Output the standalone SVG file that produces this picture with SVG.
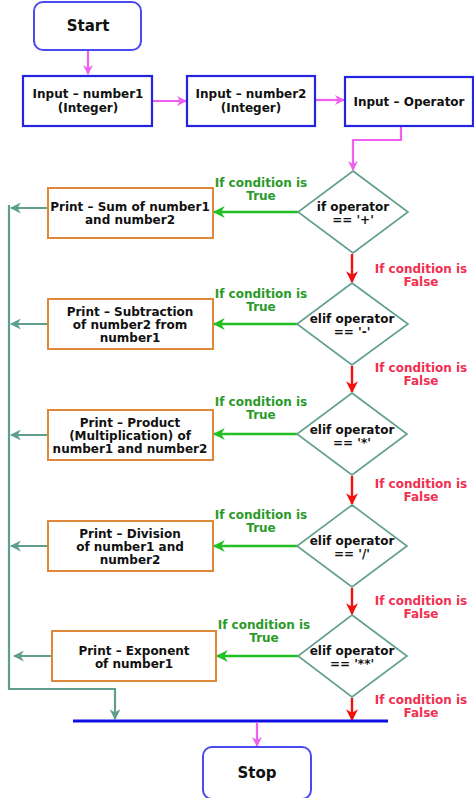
<svg xmlns="http://www.w3.org/2000/svg" width="474" height="798" viewBox="0 0 474 798">
<style>
text{font-family:"DejaVu Sans",Verdana,sans-serif;font-weight:bold;font-size:12px;text-anchor:middle;fill:#111}
.term{fill:#fff;stroke:#4a4af0;stroke-width:2}
.inp{fill:#fff;stroke:#2323e0;stroke-width:2.2}
.prt{fill:#fff;stroke:#e0883a;stroke-width:2}
.dec{fill:#fff;stroke:#5f9e8f;stroke-width:1.6}
.pink{stroke:#f060f0;stroke-width:2.2;fill:none}
.green{stroke:#22c022;stroke-width:2.6;fill:none}
.red{stroke:#ee1111;stroke-width:2.4;fill:none}
.teal{stroke:#5f9e8f;stroke-width:2.2;fill:none}
.gl{fill:#2a9a2a}
.rl{fill:#f03050}
</style>
<defs>
<marker id="mp" viewBox="0 0 10 10" refX="9" refY="5" markerWidth="10" markerHeight="10" orient="auto" markerUnits="userSpaceOnUse"><path d="M0,0 L10,5 L0,10 L3,5 Z" fill="#f060f0"/></marker>
<marker id="mg" viewBox="0 0 10 10" refX="9" refY="5" markerWidth="12" markerHeight="12" orient="auto" markerUnits="userSpaceOnUse"><path d="M0,0 L10,5 L0,10 L3,5 Z" fill="#22c022"/></marker>
<marker id="mr" viewBox="0 0 10 10" refX="9" refY="5" markerWidth="12" markerHeight="12" orient="auto" markerUnits="userSpaceOnUse"><path d="M0,0 L10,5 L0,10 L3,5 Z" fill="#ee1111"/></marker>
<marker id="mt" viewBox="0 0 10 10" refX="9" refY="5" markerWidth="11" markerHeight="11" orient="auto" markerUnits="userSpaceOnUse"><path d="M0,0 L10,5 L0,10 L3,5 Z" fill="#5f9e8f"/></marker>
</defs>
<g id="connectors">
<path class="pink" d="M88,51 V74" marker-end="url(#mp)"/>
<path class="pink" d="M152,101 H186" marker-end="url(#mp)"/>
<path class="pink" d="M315,100 H344" marker-end="url(#mp)"/>
<path class="pink" d="M401,126 V140 H353 V170" marker-end="url(#mp)"/>
<path class="green" d="M298,212 H214" marker-end="url(#mg)"/>
<path class="green" d="M297,324 H214" marker-end="url(#mg)"/>
<path class="green" d="M297,434 H214" marker-end="url(#mg)"/>
<path class="green" d="M297,546 H214" marker-end="url(#mg)"/>
<path class="green" d="M298,656 H217" marker-end="url(#mg)"/>
<path class="red" d="M352,254 V282" marker-end="url(#mr)"/>
<path class="red" d="M352,366 V392" marker-end="url(#mr)"/>
<path class="red" d="M352,476 V504" marker-end="url(#mr)"/>
<path class="red" d="M352,588 V614" marker-end="url(#mr)"/>
<path class="red" d="M352,698 V720" marker-end="url(#mr)"/>
<path class="teal" d="M48,208 H11" marker-end="url(#mt)"/>
<path class="teal" d="M48,324 H11" marker-end="url(#mt)"/>
<path class="teal" d="M48,435 H11" marker-end="url(#mt)"/>
<path class="teal" d="M48,546 H11" marker-end="url(#mt)"/>
<path class="teal" d="M52,656 H14" marker-end="url(#mt)"/>
<path class="teal" d="M9,205 V689 H115 V719" marker-end="url(#mt)"/>
<line x1="73" y1="721" x2="388" y2="721" stroke="#1010e0" stroke-width="3"/>
<path class="pink" d="M257,722 V746" marker-end="url(#mp)"/>
</g>
<g id="start"><rect class="term" x="34" y="2" width="107" height="48" rx="9"/><text x="88" y="31" style="font-size:15px">Start</text></g>
<g id="input1"><rect class="inp" x="23" y="76" width="129" height="50"/><text x="88" y="98">Input – number1</text><text x="88" y="112">(Integer)</text></g>
<g id="input2"><rect class="inp" x="187" y="76" width="128" height="50"/><text x="251" y="98">Input – number2</text><text x="251" y="112">(Integer)</text></g>
<g id="input3"><rect class="inp" x="345" y="77" width="128" height="49"/><text x="409" y="106">Input – Operator</text></g>
<g id="dec1"><polygon class="dec" points="353,171 408,212 353,253 298,212"/><text x="353" y="211">if operator</text><text x="353" y="224">== '+'</text></g>
<g id="dec2"><polygon class="dec" points="352,283 408,324 352,365 297,324"/><text x="352" y="323">elif operator</text><text x="352" y="336">== '-'</text></g>
<g id="dec3"><polygon class="dec" points="352,393 407,434 352,475 297,434"/><text x="352" y="434">elif operator</text><text x="352" y="447">== '*'</text></g>
<g id="dec4"><polygon class="dec" points="352,505 407,546 352,587 297,546"/><text x="352" y="545">elif operator</text><text x="352" y="558">== '/'</text></g>
<g id="dec5"><polygon class="dec" points="352,615 407,656 352,697 298,656"/><text x="352" y="655">elif operator</text><text x="352" y="668">== '**'</text></g>
<g id="print1"><rect class="prt" x="48" y="188" width="165" height="50"/><text x="130" y="211">Print – Sum of number1</text><text x="130" y="224">and number2</text></g>
<g id="print2"><rect class="prt" x="48" y="299" width="165" height="50"/><text x="130" y="316">Print – Subtraction</text><text x="130" y="329">of number2 from</text><text x="130" y="342">number1</text></g>
<g id="print3"><rect class="prt" x="48" y="410" width="165" height="50"/><text x="130" y="427">Print – Product</text><text x="130" y="440">(Multiplication) of</text><text x="130" y="453">number1 and number2</text></g>
<g id="print4"><rect class="prt" x="48" y="521" width="165" height="50"/><text x="130" y="538">Print – Division</text><text x="130" y="551">of number1 and</text><text x="130" y="564">number2</text></g>
<g id="print5"><rect class="prt" x="52" y="631" width="164" height="50"/><text x="134" y="655">Print – Exponent</text><text x="134" y="668">of number1</text></g>
<g id="stop"><rect class="term" x="203" y="747" width="108" height="52" rx="9"/><text x="257" y="778" style="font-size:15px">Stop</text></g>
<g id="labels">
<text class="gl" x="261" y="187">If condition is</text><text class="gl" x="261" y="200">True</text>
<text class="gl" x="261" y="298">If condition is</text><text class="gl" x="261" y="311">True</text>
<text class="gl" x="261" y="406">If condition is</text><text class="gl" x="261" y="419">True</text>
<text class="gl" x="261" y="519">If condition is</text><text class="gl" x="261" y="532">True</text>
<text class="gl" x="264" y="629">If condition is</text><text class="gl" x="264" y="642">True</text>
<text class="rl" x="421" y="273">If condition is</text><text class="rl" x="421" y="286">False</text>
<text class="rl" x="421" y="372">If condition is</text><text class="rl" x="421" y="385">False</text>
<text class="rl" x="421" y="488">If condition is</text><text class="rl" x="421" y="501">False</text>
<text class="rl" x="421" y="605">If condition is</text><text class="rl" x="421" y="618">False</text>
<text class="rl" x="421" y="704">If condition is</text><text class="rl" x="421" y="717">False</text>
</g>
</svg>
